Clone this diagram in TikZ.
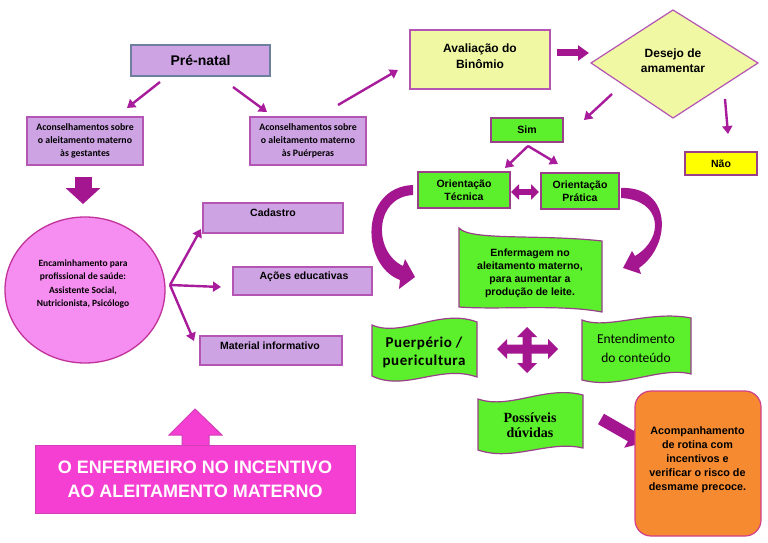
\documentclass[tikz,border=0pt]{standalone}
\usepackage{fontspec}
\setmainfont{Liberation Sans}
\newfontfamily\calibfont{Carlito}
\newfontfamily\timesfont{Liberation Serif}
\usetikzlibrary{arrows.meta,shapes.geometric}
\definecolor{lav}{HTML}{CDA3E3}
\definecolor{lavbd}{HTML}{B455B4}
\definecolor{bluebd}{HTML}{6F7FA0}
\definecolor{arr}{HTML}{A81C9C}
\definecolor{arrk}{HTML}{A3168F}
\definecolor{grn}{HTML}{5CEF2B}
\definecolor{grbd}{HTML}{9A3F8A}
\definecolor{ylw}{HTML}{F1F8A4}
\definecolor{nao}{HTML}{FFFF00}
\definecolor{circ}{HTML}{F68DF0}
\definecolor{circbd}{HTML}{C0329A}
\definecolor{orng}{HTML}{F68A31}
\definecolor{orbd}{HTML}{D2408A}
\definecolor{hpink}{HTML}{F53ED2}
\definecolor{hpinkbd}{HTML}{D040B8}
\begin{document}
\begin{tikzpicture}[x=1pt,y=-1pt,
  lavbox/.style={draw=lavbd, fill=lav, line width=1.2pt, inner sep=0pt},
  grbox/.style={draw=grbd, fill=grn, line width=1.2pt, inner sep=0pt},
  thinarrow/.style={draw=arr, line width=2.4pt, -{Triangle[length=8pt,width=10pt]}},
  bf/.style={font=\bfseries\fontsize{10.5}{12.5}\selectfont, align=center},
  calb/.style={font=\calibfont\bfseries\fontsize{9.8}{13}\selectfont, align=center}]
\useasboundingbox (0,0) rectangle (768,543);
\fill[white] (0,0) rectangle (768,543);

% ---------- top left ----------
\node[draw=bluebd, fill=lav, line width=1.2pt, minimum width=139pt, minimum height=31pt,
      font=\bfseries\fontsize{14}{16}\selectfont] (prenatal) at (200.5,60.5) {Pré-natal};
\node[lavbox, minimum width=116pt, minimum height=48pt, calb] (acg) at (85,141)
  {Aconselhamentos sobre\\o aleitamento materno\\às gestantes};
\node[lavbox, minimum width=116pt, minimum height=48pt, calb] (acp) at (308,141)
  {Aconselhamentos sobre\\o aleitamento materno\\às Puérperas};
\coordinate (a1s) at (160,82);  \coordinate (a1e) at (127,108);
\coordinate (a2s) at (233,87);  \coordinate (a2e) at (267,112);
\coordinate (a3s) at (338,105); \coordinate (a3e) at (398,70);
\draw[thinarrow] (a1s) -- (a1e);
\draw[thinarrow] (a2s) -- (a2e);
\draw[thinarrow] (a3s) -- (a3e);

% ---------- top right ----------
\node[draw=lavbd, fill=ylw, line width=1.2pt, minimum width=140pt, minimum height=59pt] (aval) at (480,59.5) {};
\node[font=\bfseries\fontsize{12}{16}\selectfont, align=center] (avaltxt) at (480,56) {Avaliação do\\Binômio};
\coordinate (tk1s) at (557,53); \coordinate (tk1e) at (589,53);
\draw[draw=arrk, line width=7pt, -{Triangle[length=11pt,width=15pt]}] (tk1s) -- (tk1e);
\draw[draw=lavbd, fill=ylw, line width=1.2pt] (591,63) -- (673,10) -- (758,63) -- (673,118) -- cycle;
\node[font=\bfseries\fontsize{12}{15}\selectfont, align=center] (desejo) at (673,61) {Desejo de\\amamentar};
\coordinate (a4s) at (612,94);  \coordinate (a4e) at (584,120);
\coordinate (a5s) at (725,99);  \coordinate (a5e) at (728,134);
\draw[thinarrow] (a4s) -- (a4e);
\draw[thinarrow] (a5s) -- (a5e);
\node[grbox, minimum width=72pt, minimum height=24pt, bf] (sim) at (527,130) {Sim};
\node[draw=grbd, fill=nao, line width=1.2pt, minimum width=72pt, minimum height=23pt, bf] (nao) at (721,163.5) {Não};
\coordinate (simv) at (528,146);
\coordinate (a6e) at (505,168); \coordinate (a7e) at (558,164);
\draw[thinarrow] (simv) -- (a6e);
\draw[thinarrow] (simv) -- (a7e);
\node[grbox, minimum width=92pt, minimum height=36pt, bf] (tec) at (464,190) {Orientação\\Técnica};
\node[grbox, minimum width=78pt, minimum height=36pt, bf] (pra) at (580,191) {Orientação\\Prática};
\coordinate (dbl1) at (511,192); \coordinate (dbl2) at (539,192);
\draw[draw=arrk, line width=6pt, {Triangle[length=8pt,width=15pt]}-{Triangle[length=8pt,width=15pt]}] (dbl1) -- (dbl2);

% curved arrows
\fill[arrk] (413,185) .. controls (360,187) and (360,265) .. (400,280) -- (399,289) -- (415,277)
  -- (405,259) -- (403,266) .. controls (373,252) and (374,197) .. (413,195) -- cycle;
\fill[arrk] (621,188) .. controls (672,186) and (672,245) .. (639,268) -- (641,274) -- (623,268)
  -- (632,251) -- (635,256) .. controls (665,238) and (662,200) .. (621,198) -- cycle;

% ---------- wave boxes ----------
\draw[draw=grbd, fill=grn, line width=1.2pt] (459,228) .. controls (470,241) and (540,234) .. (602,241)
  -- (602,312) .. controls (560,304) and (500,310) .. (459,307) -- cycle;
\node[font=\bfseries\fontsize{10.5}{13}\selectfont, align=center] (enf) at (530,273)
  {Enfermagem no\\aleitamento materno,\\para aumentar a\\produção de leite.};

\draw[draw=grbd, fill=grn, line width=1.2pt] (372,325) .. controls (402,338) and (440,308) .. (477,322)
  -- (477,377) .. controls (440,364) and (405,392) .. (372,376) -- cycle;
\node[font=\calibfont\bfseries\fontsize{15}{18}\selectfont\addfontfeature{LetterSpace=4}, align=center] (puer) at (424,352)
  {Puerpério /\\puericultura};

\draw[draw=grbd, fill=grn, line width=1.2pt] (582,320) .. controls (606,330) and (650,310) .. (691,318)
  -- (691,374) .. controls (660,366) and (620,390) .. (582,380) -- cycle;
\node[font=\calibfont\fontsize{13.5}{19}\selectfont, align=center] (ent) at (636,348)
  {Entendimento\\do conteúdo};

\begin{scope}[shift={(527,349)}]
\fill[arrk] (0,-22) -- (10,-12) -- (4.5,-12) -- (4.5,-4.5) -- (21,-4.5) -- (21,-10) -- (31,0)
  -- (21,10) -- (21,4.5) -- (4.5,4.5) -- (4.5,14) -- (10,14) -- (0,24) -- (-10,14) -- (-4.5,14)
  -- (-4.5,4.5) -- (-20,4.5) -- (-20,10) -- (-30,0) -- (-20,-10) -- (-20,-4.5) -- (-4.5,-4.5)
  -- (-4.5,-12) -- (-10,-12) -- cycle;
\end{scope}
\coordinate (fourway) at (527,349);

\draw[draw=grbd, fill=grn, line width=1.2pt] (478,399) .. controls (510,410) and (545,385) .. (583,395)
  -- (583,448) .. controls (548,440) and (513,462) .. (478,450) -- cycle;
\node[font=\timesfont\bfseries\fontsize{14}{15}\selectfont, align=center] (duv) at (530,425)
  {Possíveis\\dúvidas};

\coordinate (tk2s) at (601,419); \coordinate (tk2e) at (643,443);
\draw[draw=arrk, line width=12pt, -{Triangle[length=14pt,width=26pt]}] (tk2s) -- (tk2e);
\node[draw=orbd, fill=orng, line width=1.2pt, rounded corners=16pt, minimum width=126pt, minimum height=145pt] (acomp) at (698,463.5) {};
\node[font=\bfseries\fontsize{10.8}{14}\selectfont, align=center] (acomptxt) at (697.5,460)
  {Acompanhamento\\de rotina com\\incentivos e\\verificar o risco de\\desmame precoce.};

% ---------- left middle ----------
\coordinate (dn1) at (83,177); \coordinate (dn2) at (83,204);
\draw[draw=arrk, line width=17pt, -{Triangle[length=16pt,width=34pt]}] (dn1) -- (dn2);
\node[ellipse, draw=circbd, fill=circ, line width=1.3pt, minimum width=160pt, minimum height=146pt] (circ) at (85,290) {};
\node[font=\calibfont\bfseries\fontsize{9.5}{13.5}\selectfont, align=center] (circtxt) at (83,284)
  {Encaminhamento para\\profissional de saúde:\\Assistente Social,\\Nutricionista, Psicólogo};

\node[lavbox, minimum width=140pt, minimum height=30pt] (cad) at (273,218) {};
\node[bf] (cadtxt) at (273,213) {Cadastro};
\node[lavbox, minimum width=139pt, minimum height=28pt] (acoes) at (302.5,281) {};
\node[bf] (acoestxt) at (304,277) {Ações educativas};
\node[lavbox, minimum width=142pt, minimum height=29pt] (mat) at (271,350.5) {};
\node[bf] (mattxt) at (270,346) {Material informativo};
\coordinate (fan) at (170,285);
\coordinate (f1) at (201,229); \coordinate (f2) at (221,287); \coordinate (f3) at (194,341);
\draw[thinarrow] (fan) -- (f1);
\draw[thinarrow] (fan) -- (f2);
\draw[thinarrow] (fan) -- (f3);

% ---------- bottom ----------
\draw[draw=hpinkbd, fill=hpink, line width=1pt] (195,409) -- (222,435) -- (209,435) -- (209,446)
  -- (182,446) -- (182,435) -- (169,435) -- cycle;
\node[draw=hpinkbd, fill=hpink, line width=1pt, minimum width=320pt, minimum height=68pt,
      text=white, font=\bfseries\fontsize{18}{24}\selectfont, align=center] (titulo) at (195,479)
  {O ENFERMEIRO NO INCENTIVO\\AO ALEITAMENTO MATERNO};
\end{tikzpicture}
\end{document}
